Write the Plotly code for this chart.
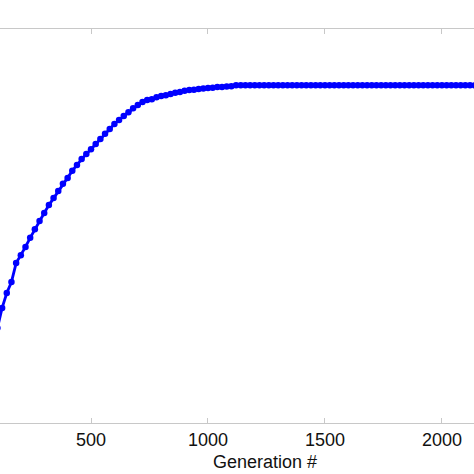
import plotly.graph_objects as go

# generation numbers (sampled every 20 generations)
generations = [
    100, 120, 140, 160, 180, 200, 220, 240, 260, 280,
    300, 320, 340, 360, 380, 400, 420, 440, 460, 480,
    500, 520, 540, 560, 580, 600, 620, 640, 660, 680,
    700, 720, 740, 760, 780, 800, 820, 840, 860, 880,
    900, 920, 940, 960, 980, 1000, 1020, 1040, 1060, 1080,
    1100, 1120, 1140, 1160, 1180, 1200, 1220, 1240, 1260, 1280,
    1300, 1320, 1340, 1360, 1380, 1400, 1420, 1440, 1460, 1480,
    1500, 1520, 1540, 1560, 1580, 1600, 1620, 1640, 1660, 1680,
    1700, 1720, 1740, 1760, 1780, 1800, 1820, 1840, 1860, 1880,
    1900, 1920, 1940, 1960, 1980, 2000, 2020, 2040, 2060, 2080,
    2100, 2120, 2140,
]

# best fitness per generation
fitness = [
    0.241, 0.292, 0.330, 0.358, 0.406, 0.426, 0.447, 0.470, 0.492, 0.513,
    0.533, 0.553, 0.571, 0.589, 0.607, 0.622, 0.640, 0.655, 0.670, 0.683,
    0.695, 0.708, 0.721, 0.734, 0.746, 0.759, 0.769, 0.779, 0.789, 0.799,
    0.807, 0.815, 0.820, 0.822, 0.827, 0.830, 0.832, 0.835, 0.838, 0.840,
    0.843, 0.845, 0.846, 0.848, 0.849, 0.850, 0.851, 0.853, 0.853, 0.854,
    0.855, 0.857, 0.857, 0.857, 0.857, 0.857, 0.857, 0.857, 0.857, 0.857,
    0.857, 0.857, 0.857, 0.857, 0.857, 0.857, 0.857, 0.857, 0.857, 0.857,
    0.857, 0.857, 0.857, 0.857, 0.857, 0.857, 0.857, 0.857, 0.857, 0.857,
    0.857, 0.857, 0.857, 0.857, 0.857, 0.857, 0.857, 0.857, 0.857, 0.857,
    0.857, 0.857, 0.857, 0.857, 0.857, 0.857, 0.857, 0.857, 0.857, 0.857,
    0.857, 0.857, 0.857,
]

x_ticks = [500, 1000, 1500, 2000]

fig = go.Figure()
fig.add_trace(go.Scatter(
    x=generations, y=fitness,
    mode='lines+markers',
    line=dict(color='#0000ff', width=2.8),
    marker=dict(color='#0000ff', size=6.5),
    showlegend=False,
))

fig.update_layout(
    width=474, height=474,
    margin=dict(l=0, r=0, t=29, b=51),
    paper_bgcolor='white', plot_bgcolor='white',
    font=dict(family='Liberation Sans, Arial, sans-serif', size=18, color='#000000'),
    xaxis=dict(
        range=[111, 2137],
        tickvals=x_ticks,
        ticks='inside', ticklen=5, tickcolor='#c8c8c8', tickwidth=1,
        showline=True, linecolor='#c8c8c8', linewidth=1, mirror='ticks',
        showgrid=False, zeroline=False,
        tickfont=dict(size=18, color='#111111'),
    ),
    yaxis=dict(
        range=[0, 1],
        showticklabels=False, ticks='',
        showline=False, showgrid=False, zeroline=False,
    ),
    annotations=[dict(
        text='Generation #', xref='x', x=1244, yref='paper', y=0,
        yanchor='top', xanchor='center', yshift=-27, showarrow=False,
        font=dict(size=18, color='#111111'),
    )],
)

# page body has a default 8px margin; drop it so the figure sits at the corner
fig.write_html("out.html", config={'displayModeBar': False},
               post_script="document.body.style.margin='0';")
